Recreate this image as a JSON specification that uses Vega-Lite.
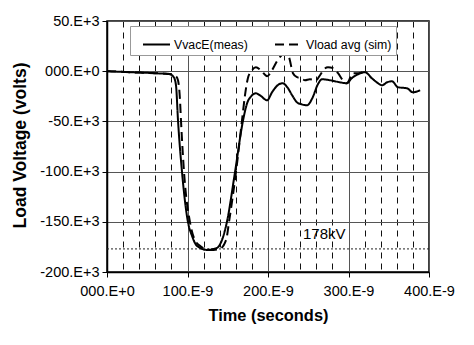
{
  "$schema": "https://vega.github.io/schema/vega-lite/v6.json",
  "autosize": "none",
  "width": 322,
  "height": 251,
  "padding": {"left": 107, "top": 21, "right": 45, "bottom": 73},
  "background": "white",
  "config": {
    "font": "Liberation Sans",
    "view": {"stroke": "black", "strokeWidth": 1.5},
    "axis": {"labelFont": "Liberation Sans", "titleFont": "Liberation Sans", "labelColor": "black", "titleColor": "black"}
  },
  "datasets": {
    "curves": [
      {"series": "VvacE(meas)", "t": 0, "v": 0},
      {"series": "VvacE(meas)", "t": 28.6, "v": -1000},
      {"series": "VvacE(meas)", "t": 59.6, "v": -2000},
      {"series": "VvacE(meas)", "t": 78, "v": -3000},
      {"series": "VvacE(meas)", "t": 83, "v": -6000},
      {"series": "VvacE(meas)", "t": 85.7, "v": -14000},
      {"series": "VvacE(meas)", "t": 88.2, "v": -49000},
      {"series": "VvacE(meas)", "t": 93.2, "v": -100600},
      {"series": "VvacE(meas)", "t": 100.6, "v": -150400},
      {"series": "VvacE(meas)", "t": 105.6, "v": -164000},
      {"series": "VvacE(meas)", "t": 111.8, "v": -174000},
      {"series": "VvacE(meas)", "t": 124.2, "v": -178000},
      {"series": "VvacE(meas)", "t": 136.6, "v": -176000},
      {"series": "VvacE(meas)", "t": 142.9, "v": -168000},
      {"series": "VvacE(meas)", "t": 149, "v": -150000},
      {"series": "VvacE(meas)", "t": 159, "v": -100600},
      {"series": "VvacE(meas)", "t": 169, "v": -49000},
      {"series": "VvacE(meas)", "t": 174, "v": -32000},
      {"series": "VvacE(meas)", "t": 179, "v": -25000},
      {"series": "VvacE(meas)", "t": 185, "v": -22000},
      {"series": "VvacE(meas)", "t": 190, "v": -24000},
      {"series": "VvacE(meas)", "t": 199, "v": -29000},
      {"series": "VvacE(meas)", "t": 205, "v": -21000},
      {"series": "VvacE(meas)", "t": 212, "v": -14000},
      {"series": "VvacE(meas)", "t": 218, "v": -12000},
      {"series": "VvacE(meas)", "t": 224, "v": -16000},
      {"series": "VvacE(meas)", "t": 230, "v": -24000},
      {"series": "VvacE(meas)", "t": 236, "v": -31000},
      {"series": "VvacE(meas)", "t": 242, "v": -33000},
      {"series": "VvacE(meas)", "t": 248.4, "v": -34000},
      {"series": "VvacE(meas)", "t": 255, "v": -27000},
      {"series": "VvacE(meas)", "t": 262, "v": -13000},
      {"series": "VvacE(meas)", "t": 267, "v": -8000},
      {"series": "VvacE(meas)", "t": 277, "v": -9000},
      {"series": "VvacE(meas)", "t": 289, "v": -11000},
      {"series": "VvacE(meas)", "t": 298, "v": -12000},
      {"series": "VvacE(meas)", "t": 304, "v": -7000},
      {"series": "VvacE(meas)", "t": 312, "v": -3000},
      {"series": "VvacE(meas)", "t": 320.5, "v": -1000},
      {"series": "VvacE(meas)", "t": 329, "v": -7000},
      {"series": "VvacE(meas)", "t": 335, "v": -11000},
      {"series": "VvacE(meas)", "t": 341.6, "v": -14000},
      {"series": "VvacE(meas)", "t": 348, "v": -11000},
      {"series": "VvacE(meas)", "t": 354, "v": -10000},
      {"series": "VvacE(meas)", "t": 361.5, "v": -16000},
      {"series": "VvacE(meas)", "t": 372.7, "v": -17000},
      {"series": "VvacE(meas)", "t": 380, "v": -21000},
      {"series": "VvacE(meas)", "t": 389, "v": -19000},
      {"series": "Vload avg (sim)", "t": 0, "v": 0},
      {"series": "Vload avg (sim)", "t": 28.6, "v": -1000},
      {"series": "Vload avg (sim)", "t": 59.6, "v": -2000},
      {"series": "Vload avg (sim)", "t": 80.7, "v": -3000},
      {"series": "Vload avg (sim)", "t": 85.7, "v": -5000},
      {"series": "Vload avg (sim)", "t": 88.2, "v": -9000},
      {"series": "Vload avg (sim)", "t": 90.7, "v": -29000},
      {"series": "Vload avg (sim)", "t": 91.9, "v": -49000},
      {"series": "Vload avg (sim)", "t": 95.7, "v": -100600},
      {"series": "Vload avg (sim)", "t": 103, "v": -150000},
      {"series": "Vload avg (sim)", "t": 108, "v": -166000},
      {"series": "Vload avg (sim)", "t": 115.5, "v": -174000},
      {"series": "Vload avg (sim)", "t": 128, "v": -178000},
      {"series": "Vload avg (sim)", "t": 140, "v": -177000},
      {"series": "Vload avg (sim)", "t": 148, "v": -168000},
      {"series": "Vload avg (sim)", "t": 151.6, "v": -150000},
      {"series": "Vload avg (sim)", "t": 160.2, "v": -100600},
      {"series": "Vload avg (sim)", "t": 167.7, "v": -49000},
      {"series": "Vload avg (sim)", "t": 171.4, "v": -24000},
      {"series": "Vload avg (sim)", "t": 175, "v": -7000},
      {"series": "Vload avg (sim)", "t": 180, "v": 1000},
      {"series": "Vload avg (sim)", "t": 185, "v": 4000},
      {"series": "Vload avg (sim)", "t": 191, "v": 1000},
      {"series": "Vload avg (sim)", "t": 199, "v": -5000},
      {"series": "Vload avg (sim)", "t": 205, "v": 1000},
      {"series": "Vload avg (sim)", "t": 212, "v": 11000},
      {"series": "Vload avg (sim)", "t": 221, "v": 18000},
      {"series": "Vload avg (sim)", "t": 226, "v": 14000},
      {"series": "Vload avg (sim)", "t": 231, "v": -2000},
      {"series": "Vload avg (sim)", "t": 236, "v": -6000},
      {"series": "Vload avg (sim)", "t": 241, "v": -7000},
      {"series": "Vload avg (sim)", "t": 246, "v": -9000},
      {"series": "Vload avg (sim)", "t": 252, "v": -8000},
      {"series": "Vload avg (sim)", "t": 259.6, "v": -9000},
      {"series": "Vload avg (sim)", "t": 264.6, "v": -4000},
      {"series": "Vload avg (sim)", "t": 269.6, "v": 2000},
      {"series": "Vload avg (sim)", "t": 274.5, "v": 4000},
      {"series": "Vload avg (sim)", "t": 280.7, "v": 3000},
      {"series": "Vload avg (sim)", "t": 287, "v": -2000},
      {"series": "Vload avg (sim)", "t": 293, "v": -9000},
      {"series": "Vload avg (sim)", "t": 298, "v": -12000},
      {"series": "Vload avg (sim)", "t": 305.6, "v": -2000},
      {"series": "Vload avg (sim)", "t": 312, "v": -2000},
      {"series": "Vload avg (sim)", "t": 320.5, "v": 0}
    ]
  },
  "encoding": {
    "x": {
      "field": "t", "type": "quantitative",
      "scale": {"domain": [0, 400], "nice": false, "zero": false},
      "axis": {
        "values": [0, 20, 40, 60, 80, 100, 120, 140, 160, 180, 200, 220, 240, 260, 280, 300, 320, 340, 360, 380, 400],
        "labelExpr": "datum.value % 100 === 0 ? (datum.value === 0 ? '000.E+0' : datum.value + '.E-9') : ''",
        "labelFontSize": 14.5,
        "labelPadding": 7,
        "labelFlush": false,
        "labelOverlap": false,
        "grid": true,
        "gridColor": {"condition": {"test": "datum.value % 100 === 0", "value": "#555"}, "value": "#111"},
        "gridDash": {"condition": {"test": "datum.value % 100 === 0", "value": []}, "value": [6, 5]},
        "gridWidth": 1,
        "tickOpacity": {"condition": {"test": "datum.value % 100 === 0", "value": 1}, "value": 0},
        "tickColor": "black",
        "tickSize": 5,
        "domainColor": "black",
        "domainWidth": 1.5,
        "title": "Time (seconds)",
        "titleFontSize": 16.4,
        "titleFontWeight": "bold",
        "titlePadding": 10
      }
    },
    "y": {
      "field": "v", "type": "quantitative",
      "scale": {"domain": [-200000, 50000], "nice": false, "zero": false},
      "axis": {
        "values": [-200000, -150000, -100000, -50000, 0, 50000],
        "labelExpr": "datum.value === 0 ? '000.E+0' : (datum.value / 1000) + '.E+3'",
        "labelFontSize": 14.5,
        "labelPadding": 3,
        "labelFlush": false,
        "labelOverlap": false,
        "grid": true,
        "gridColor": "#555",
        "gridWidth": 1,
        "tickColor": "black",
        "tickSize": 5,
        "domainColor": "black",
        "domainWidth": 1.5,
        "title": "Load Voltage (volts)",
        "titleFontSize": 17.5,
        "titleFontWeight": "bold",
        "titleAngle": -90,
        "titleAlign": "center",
        "titleBaseline": "middle",
        "titleX": -87,
        "titleY": 124
      }
    }
  },
  "layer": [
    {
      "data": {"values": [{"t": 0, "v": -177000}, {"t": 400, "v": -177000}]},
      "mark": {"type": "line", "color": "#222", "strokeWidth": 1, "strokeDash": [2, 2]}
    },
    {
      "data": {"name": "curves"},
      "mark": {"type": "line", "color": "black", "strokeWidth": 2, "interpolate": "monotone"},
      "encoding": {
        "detail": {"field": "series"},
        "strokeDash": {
          "field": "series", "type": "nominal",
          "scale": {"domain": ["VvacE(meas)", "Vload avg (sim)"], "range": [[1, 0], [9, 5]]},
          "legend": {
            "title": null,
            "orient": "none",
            "legendX": 23,
            "legendY": 5,
            "direction": "horizontal",
            "fillColor": "white",
            "strokeColor": "#999",
            "padding": 4,
            "symbolType": "stroke",
            "symbolSize": 729,
            "symbolStrokeWidth": 2,
            "symbolStrokeColor": "black",
            "symbolOffset": 8,
            "labelFontSize": 12.3,
            "labelColor": "black",
            "labelOffset": 3,
            "columnPadding": 18,
            "labelLimit": 200
          }
        }
      }
    },
    {
      "data": {"values": [{"t": 243.5, "v": -162000, "label": "178kV"}]},
      "mark": {"type": "text", "align": "left", "baseline": "middle", "fontSize": 15, "color": "black", "font": "Liberation Sans"},
      "encoding": {"text": {"field": "label"}}
    }
  ]
}
